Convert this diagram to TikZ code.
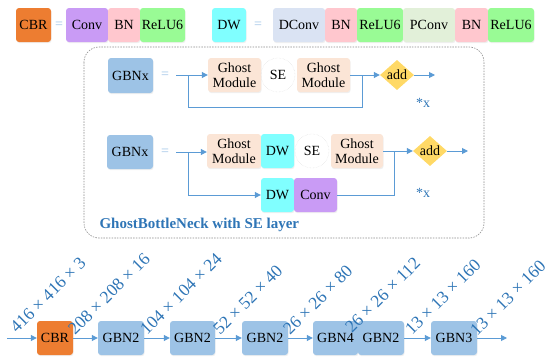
\documentclass[tikz,border=0pt]{standalone}
\usepackage{fontspec}
\setmainfont{Liberation Serif}
\usetikzlibrary{arrows.meta,shapes.geometric,shadows}
\definecolor{cbr}{HTML}{ED7D31}
\definecolor{convc}{HTML}{C99BF5}
\definecolor{bnc}{HTML}{FFC7CE}
\definecolor{reluc}{HTML}{99FB95}
\definecolor{dwc}{HTML}{80FFFF}
\definecolor{dconvc}{HTML}{DAE3F3}
\definecolor{pconvc}{HTML}{E2F0D9}
\definecolor{gbnc}{HTML}{9DC3E6}
\definecolor{gmc}{HTML}{FBE5D6}
\definecolor{addc}{HTML}{FFD966}
\definecolor{linec}{HTML}{5B9BD5}
\definecolor{labc}{HTML}{2E75B6}
\tikzset{
  bx/.style={rounded corners=3pt, inner sep=0pt, minimum height=34pt, align=center, font=\fontsize{14}{14.5}\selectfont,
    drop shadow={opacity=0.12, shadow xshift=0.6pt, shadow yshift=-1.2pt}},
  eqs/.style={text=gbnc, font=\fontsize{14}{14}\selectfont},
  conn/.style={draw=linec, line width=1pt},
  arr/.style={conn, -{Triangle[length=6pt,width=6pt]}},
  sec/.style={circle, draw=black!15, densely dotted, minimum size=34pt, inner sep=0pt, font=\fontsize{14}{14.5}\selectfont},
  addd/.style={diamond, fill=addc, minimum width=34pt, minimum height=26pt, inner sep=0pt, font=\fontsize{14}{14.5}\selectfont},
  dim/.style={rotate=45, anchor=base west, inner sep=0pt, text=labc, font=\fontsize{17.5}{17.5}\selectfont},
  mul/.style={text=labc, font=\fontsize{14}{14}\selectfont}
}
\begin{document}
\begin{tikzpicture}[x=1pt,y=-1pt]
\useasboundingbox (0,0) rectangle (550,364);
% top row
\node[bx, fill=cbr, minimum width=35pt] (cbr0) at (33.5,25) {CBR};
\node[eqs] (eq1) at (59,25) {=};
\node[bx, fill=convc, minimum width=42pt] (conv0) at (87,25) {Conv};
\node[bx, fill=bnc, minimum width=32pt] (bn0) at (124,25) {BN};
\node[bx, fill=reluc, minimum width=45pt] (relu0) at (162.5,25) {ReLU6};
\node[bx, fill=dwc, minimum width=34pt] (dw0) at (229,25) {DW};
\node[eqs] (eq2) at (258,25) {=};
\node[bx, fill=dconvc, minimum width=52pt] (dconv0) at (299,25) {DConv};
\node[bx, fill=bnc, minimum width=32pt] (bn1) at (341,25) {BN};
\node[bx, fill=reluc, minimum width=46pt] (relu1) at (380,25) {ReLU6};
\node[bx, fill=pconvc, minimum width=52pt] (pconv0) at (429,25) {PConv};
\node[bx, fill=bnc, minimum width=33pt] (bn2) at (471.5,25) {BN};
\node[bx, fill=reluc, minimum width=46pt] (relu2) at (511,25) {ReLU6};
% frame
\draw[black!45, dash pattern=on 1.5pt off 1.2pt, rounded corners=15pt, line width=0.6pt] (84,47) rectangle (484,238);
% row 1
\node[bx, fill=gbnc, minimum width=45pt, minimum height=35pt] (gx1) at (130.5,75.5) {GBNx};
\node[eqs] (eq3) at (165,75) {=};
\node[bx, fill=gmc, minimum width=53pt] (gm1a) at (234.5,75) {Ghost\\Module};
\node[sec] (se1) at (278,75) {SE};
\node[bx, fill=gmc, minimum width=53pt] (gm1b) at (323.5,75) {Ghost\\Module};
\node[addd] (add1) at (397,75) {add};
\coordinate (s1) at (176,75);
\coordinate (b1) at (188,75);
\coordinate (j1) at (362,75);
\coordinate (o1) at (435,75);
\draw[arr] (s1) -- (gm1a.west);
\draw[conn] (b1) -- (188,107) -- (362,107) -- (j1);
\draw[arr] (gm1b.east) -- (add1.west);
\draw[arr] (add1.east) -- (o1);
\node[mul] (m1) at (423,103) {*x};
% row 2
\node[bx, fill=gbnc, minimum width=46pt] (gx2) at (130,152) {GBNx};
\node[eqs] (eq4) at (165,152) {=};
\node[bx, fill=gmc, minimum width=54pt] (gm2a) at (234,151) {Ghost\\Module};
\node[bx, fill=dwc, minimum width=33pt] (dw2a) at (277.5,151) {DW};
\node[sec] (se2) at (312,151) {SE};
\node[bx, fill=gmc, minimum width=52pt] (gm2b) at (357,151) {Ghost\\Module};
\node[addd] (add2) at (430,151) {add};
\node[bx, fill=dwc, minimum width=33pt] (dw2b) at (277.5,195) {DW};
\node[bx, fill=convc, minimum width=43pt] (conv2) at (315.5,195) {Conv};
\coordinate (s2) at (176,152);
\coordinate (b2) at (188,152);
\coordinate (j2) at (394,151);
\coordinate (o2) at (468,151);
\draw[arr] (s2) -- (gm2a.west|-s2);
\draw[arr] (b2) -- (188,195) -- (dw2b.west);
\draw[conn] (conv2.east) -- (394,195) -- (j2);
\draw[arr] (gm2b.east) -- (add2.west);
\draw[arr] (add2.east) -- (o2);
\node[mul] (m2) at (423,193) {*x};
\node[anchor=west, text=labc, font=\fontsize{15}{15}\selectfont\bfseries] (title) at (96,225) {GhostBottleNeck with SE layer};
% bottom row
\node[bx, fill=cbr, minimum width=36pt] (c1) at (55,338) {CBR};
\node[bx, fill=gbnc, minimum width=46pt] (g1) at (121,338) {GBN2};
\node[bx, fill=gbnc, minimum width=45pt] (g2) at (192.5,338) {GBN2};
\node[bx, fill=gbnc, minimum width=46pt] (g3) at (265,338) {GBN2};
\node[bx, fill=gbnc, minimum width=45pt] (g4) at (335.5,338) {GBN4};
\node[bx, fill=gbnc, minimum width=46pt] (g5) at (381,338) {GBN2};
\node[bx, fill=gbnc, minimum width=46pt] (g6) at (454,338) {GBN3};
\coordinate (in) at (7,338);
\coordinate (out) at (507,338);
\draw[arr] (in) -- (c1);
\draw[arr] (c1) -- (g1);
\draw[arr] (g1) -- (g2);
\draw[arr] (g2) -- (g3);
\draw[arr] (g3) -- (g4);
\draw[arr] (g6) -- (out);
\draw[arr] (g5) -- (g6);
\node[dim] (l1) at (17,334) {416 × 416 × 3};
\node[dim] (l2) at (75,336) {208 × 208 × 16};
\node[dim] (l3) at (147,336) {104 × 104 × 24};
\node[dim] (l4) at (220,336) {52 × 52 × 40};
\node[dim] (l5) at (290,336) {26 × 26 × 80};
\node[dim] (l6) at (352,334) {26 × 26 × 112};
\node[dim] (l7) at (412,336) {13 × 13 × 160};
\node[dim] (l8) at (477,337) {13 × 13 × 160};
\end{tikzpicture}
\end{document}
